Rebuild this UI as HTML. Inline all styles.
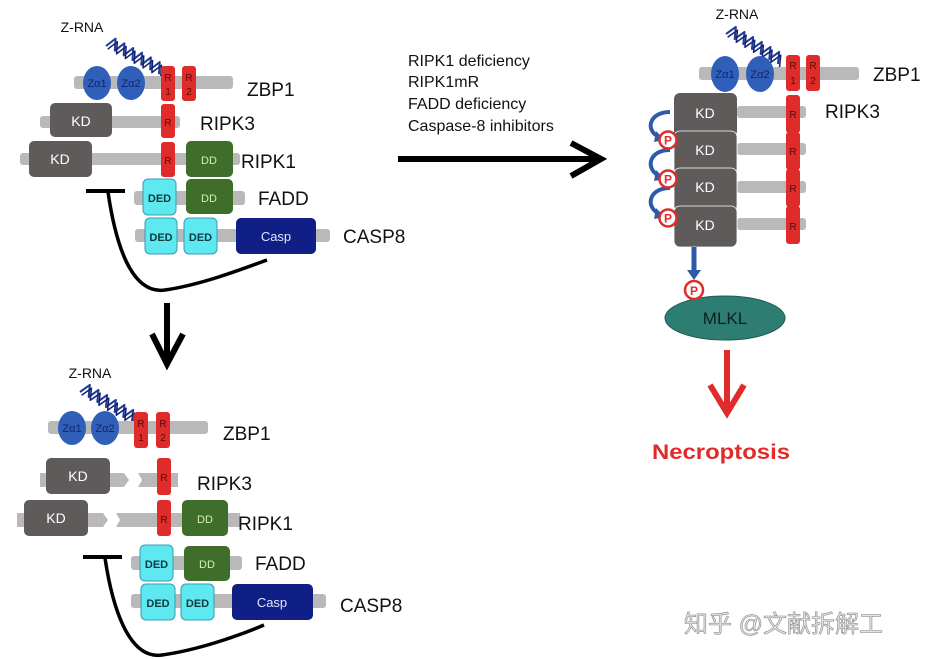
<!DOCTYPE html>
<html><head><meta charset="utf-8"><style>
html,body{margin:0;padding:0;background:#fff}
svg{display:block}
text{font-family:"Liberation Sans",Arial,sans-serif}
</style></head><body>
<svg width="936" height="659" viewBox="0 0 936 659" xmlns="http://www.w3.org/2000/svg">
<defs>
<g id="helix" fill="none" stroke="#1f3a9a" stroke-width="2" stroke-linejoin="round">
<path d="M0,0 l5,-11 l5,11 l5,-11 l5,11 l5,-11 l5,11 l5,-11 l5,11 l5,-11 l5,11 l5,-11 l5,11"/>
<path d="M3,2 l5,-11 l5,11 l5,-11 l5,11 l5,-11 l5,11 l5,-11 l5,11 l5,-11 l5,11 l5,-11 l5,11" stroke="#14206a" stroke-width="1.5"/>
</g>
</defs>
<rect width="936" height="659" fill="#fff"/>

<text x="82" y="32" font-size="14" text-anchor="middle" fill="#111">Z-RNA</text>
<use href="#helix" transform="translate(106,46) rotate(28)"/>
<rect x="74" y="76" width="159" height="13" rx="3" fill="#b9b9b9"/>
<ellipse cx="97" cy="83" rx="14" ry="17" fill="#2f5fb8"/><text x="97" y="87" font-size="11" text-anchor="middle" fill="#14246a">Zα1</text>
<ellipse cx="131" cy="83" rx="14" ry="17" fill="#2f5fb8"/><text x="131" y="87" font-size="11" text-anchor="middle" fill="#14246a">Zα2</text>
<rect x="161" y="66" width="14" height="35" rx="3" fill="#e02b2b"/><text x="168" y="81" font-size="10" text-anchor="middle" fill="#5a0a0a">R</text><text x="168" y="95" font-size="10" text-anchor="middle" fill="#5a0a0a">1</text>
<rect x="182" y="66" width="14" height="35" rx="3" fill="#e02b2b"/><text x="189" y="81" font-size="10" text-anchor="middle" fill="#5a0a0a">R</text><text x="189" y="95" font-size="10" text-anchor="middle" fill="#5a0a0a">2</text>
<text x="247" y="96" font-size="19" fill="#111">ZBP1</text>

<rect x="40" y="116" width="140" height="12" rx="3" fill="#b9b9b9"/>
<rect x="50" y="103" width="62" height="34" rx="5" fill="#5f5b5b"/><text x="81" y="126" font-size="14" text-anchor="middle" fill="#fff">KD</text>
<rect x="161" y="104" width="14" height="34" rx="3" fill="#e02b2b"/><text x="168" y="126" font-size="10" text-anchor="middle" fill="#5a0a0a">R</text>
<text x="200" y="130" font-size="19" fill="#111">RIPK3</text>

<rect x="20" y="153" width="220" height="12" rx="3" fill="#b9b9b9"/>
<rect x="29" y="141" width="63" height="36" rx="5" fill="#5f5b5b"/><text x="60" y="164" font-size="14" text-anchor="middle" fill="#fff">KD</text>
<rect x="161" y="142" width="14" height="35" rx="3" fill="#e02b2b"/><text x="168" y="164" font-size="10" text-anchor="middle" fill="#5a0a0a">R</text>
<rect x="186" y="141" width="47" height="36" rx="5" fill="#3f6e2a"/><text x="209" y="164" font-size="11" text-anchor="middle" fill="#d6f0b0">DD</text>
<text x="241" y="168" font-size="19" fill="#111">RIPK1</text>

<rect x="134" y="191" width="111" height="14" rx="3" fill="#b9b9b9"/>
<rect x="143" y="179" width="33" height="36" rx="5" fill="#5ee8f0" stroke="#3a9bb0"/><text x="159.5" y="202" font-size="11" font-weight="bold" text-anchor="middle" fill="#0c3a40">DED</text>
<rect x="186" y="179" width="47" height="35" rx="5" fill="#3f6e2a"/><text x="209" y="202" font-size="11" text-anchor="middle" fill="#d6f0b0">DD</text>
<text x="258" y="205" font-size="19" fill="#111">FADD</text>

<rect x="135" y="229" width="195" height="13" rx="3" fill="#b9b9b9"/>
<rect x="145" y="218" width="32" height="36" rx="5" fill="#5ee8f0" stroke="#3a9bb0"/><text x="161" y="241" font-size="11" font-weight="bold" text-anchor="middle" fill="#0c3a40">DED</text>
<rect x="184" y="218" width="33" height="36" rx="5" fill="#5ee8f0" stroke="#3a9bb0"/><text x="200.5" y="241" font-size="11" font-weight="bold" text-anchor="middle" fill="#0c3a40">DED</text>
<rect x="236" y="218" width="80" height="36" rx="5" fill="#0f1f86"/><text x="276" y="241" font-size="13" text-anchor="middle" fill="#e0e6ff">Casp</text>
<text x="343" y="243" font-size="19" fill="#111">CASP8</text>

<path d="M86,191 H125" stroke="#000" stroke-width="4"/>
<path d="M108,192 C115,240 130,295 165,290 C200,285 240,270 267,260" fill="none" stroke="#000" stroke-width="3.5"/>

<path d="M167,303 V362 M152,334 L167,364 L183,334" fill="none" stroke="#000" stroke-width="6"/>

<text x="90" y="378" font-size="14" text-anchor="middle" fill="#111">Z-RNA</text>
<use href="#helix" transform="translate(80,392) rotate(30)"/>
<rect x="48" y="421" width="160" height="13" rx="3" fill="#b9b9b9"/>
<ellipse cx="72" cy="428" rx="14" ry="17" fill="#2f5fb8"/><text x="72" y="432" font-size="11" text-anchor="middle" fill="#14246a">Zα1</text>
<ellipse cx="105" cy="428" rx="14" ry="17" fill="#2f5fb8"/><text x="105" y="432" font-size="11" text-anchor="middle" fill="#14246a">Zα2</text>
<rect x="134" y="412" width="14" height="36" rx="3" fill="#e02b2b"/><text x="141" y="427" font-size="10" text-anchor="middle" fill="#5a0a0a">R</text><text x="141" y="441" font-size="10" text-anchor="middle" fill="#5a0a0a">1</text>
<rect x="156" y="412" width="14" height="36" rx="3" fill="#e02b2b"/><text x="163" y="427" font-size="10" text-anchor="middle" fill="#5a0a0a">R</text><text x="163" y="441" font-size="10" text-anchor="middle" fill="#5a0a0a">2</text>
<text x="223" y="440" font-size="19" fill="#111">ZBP1</text>

<path d="M40,473 H124 L129,480 L124,487 H40 Z" fill="#b9b9b9"/>
<path d="M138,473 H178 V487 H138 L142,480 Z" fill="#b9b9b9"/>
<rect x="46" y="458" width="64" height="36" rx="5" fill="#5f5b5b"/><text x="78" y="481" font-size="14" text-anchor="middle" fill="#fff">KD</text>
<rect x="157" y="458" width="14" height="37" rx="3" fill="#e02b2b"/><text x="164" y="481" font-size="10" text-anchor="middle" fill="#5a0a0a">R</text>
<text x="197" y="490" font-size="19" fill="#111">RIPK3</text>

<path d="M17,513 H103 L108,520 L103,527 H17 Z" fill="#b9b9b9"/>
<path d="M116,513 H240 V527 H116 L120,520 Z" fill="#b9b9b9"/>
<rect x="24" y="500" width="64" height="36" rx="5" fill="#5f5b5b"/><text x="56" y="523" font-size="14" text-anchor="middle" fill="#fff">KD</text>
<rect x="157" y="500" width="14" height="36" rx="3" fill="#e02b2b"/><text x="164" y="523" font-size="10" text-anchor="middle" fill="#5a0a0a">R</text>
<rect x="182" y="500" width="46" height="36" rx="5" fill="#3f6e2a"/><text x="205" y="523" font-size="11" text-anchor="middle" fill="#d6f0b0">DD</text>
<text x="238" y="530" font-size="19" fill="#111">RIPK1</text>

<rect x="131" y="556" width="111" height="14" rx="3" fill="#b9b9b9"/>
<rect x="140" y="545" width="33" height="36" rx="5" fill="#5ee8f0" stroke="#3a9bb0"/><text x="156.5" y="568" font-size="11" font-weight="bold" text-anchor="middle" fill="#0c3a40">DED</text>
<rect x="184" y="546" width="46" height="35" rx="5" fill="#3f6e2a"/><text x="207" y="568" font-size="11" text-anchor="middle" fill="#d6f0b0">DD</text>
<text x="255" y="570" font-size="19" fill="#111">FADD</text>

<rect x="131" y="594" width="195" height="14" rx="3" fill="#b9b9b9"/>
<rect x="141" y="584" width="34" height="36" rx="5" fill="#5ee8f0" stroke="#3a9bb0"/><text x="158" y="607" font-size="11" font-weight="bold" text-anchor="middle" fill="#0c3a40">DED</text>
<rect x="181" y="584" width="33" height="36" rx="5" fill="#5ee8f0" stroke="#3a9bb0"/><text x="197.5" y="607" font-size="11" font-weight="bold" text-anchor="middle" fill="#0c3a40">DED</text>
<rect x="232" y="584" width="81" height="36" rx="5" fill="#0f1f86"/><text x="272" y="607" font-size="13" text-anchor="middle" fill="#e0e6ff">Casp</text>
<text x="340" y="612" font-size="19" fill="#111">CASP8</text>

<path d="M83,557 H122" stroke="#000" stroke-width="4"/>
<path d="M105,558 C112,605 128,660 162,655 C198,650 238,636 264,625" fill="none" stroke="#000" stroke-width="3.5"/>

<text font-size="16" fill="#111"><tspan x="408" y="66">RIPK1 deficiency</tspan><tspan x="408" y="87">RIPK1mR</tspan><tspan x="408" y="109">FADD deficiency</tspan><tspan x="408" y="131">Caspase-8 inhibitors</tspan></text>
<path d="M398,159 H598 M571,143 L601,159 L571,176" fill="none" stroke="#000" stroke-width="6"/>

<text x="737" y="19" font-size="14" text-anchor="middle" fill="#111">Z-RNA</text>
<use href="#helix" transform="translate(726,34) rotate(30)"/>
<rect x="699" y="67" width="160" height="13" rx="3" fill="#b9b9b9"/>
<ellipse cx="725" cy="74" rx="14" ry="18" fill="#2f5fb8"/><text x="725" y="78" font-size="11" text-anchor="middle" fill="#14246a">Zα1</text>
<ellipse cx="760" cy="74" rx="14" ry="18" fill="#2f5fb8"/><text x="760" y="78" font-size="11" text-anchor="middle" fill="#14246a">Zα2</text>
<rect x="786" y="55" width="14" height="36" rx="3" fill="#e02b2b"/><text x="793" y="69" font-size="10" text-anchor="middle" fill="#5a0a0a">R</text><text x="793" y="84" font-size="10" text-anchor="middle" fill="#5a0a0a">1</text>
<rect x="806" y="55" width="14" height="36" rx="3" fill="#e02b2b"/><text x="813" y="69" font-size="10" text-anchor="middle" fill="#5a0a0a">R</text><text x="813" y="84" font-size="10" text-anchor="middle" fill="#5a0a0a">2</text>
<text x="873" y="81" font-size="19" fill="#111">ZBP1</text>

<g>
<rect x="737" y="106" width="69" height="12" rx="3" fill="#b9b9b9"/>
<rect x="737" y="143" width="69" height="12" rx="3" fill="#b9b9b9"/>
<rect x="737" y="181" width="69" height="12" rx="3" fill="#b9b9b9"/>
<rect x="737" y="218" width="69" height="12" rx="3" fill="#b9b9b9"/>
<rect x="674" y="93" width="63" height="44" rx="6" fill="#5f5b5b"/>
<rect x="674" y="131" width="63" height="44" rx="6" fill="#5f5b5b" stroke="#fff" stroke-width="0.8"/>
<rect x="674" y="168" width="63" height="44" rx="6" fill="#5f5b5b" stroke="#fff" stroke-width="0.8"/>
<rect x="674" y="206" width="63" height="41" rx="6" fill="#5f5b5b" stroke="#fff" stroke-width="0.8"/>
<text x="705" y="118" font-size="14" text-anchor="middle" fill="#fff">KD</text>
<text x="705" y="155" font-size="14" text-anchor="middle" fill="#fff">KD</text>
<text x="705" y="192" font-size="14" text-anchor="middle" fill="#fff">KD</text>
<text x="705" y="230" font-size="14" text-anchor="middle" fill="#fff">KD</text>
<rect x="786" y="95" width="14" height="38" rx="3" fill="#e02b2b"/><text x="793" y="118" font-size="10" text-anchor="middle" fill="#5a0a0a">R</text>
<rect x="786" y="132" width="14" height="38" rx="3" fill="#e02b2b"/><text x="793" y="155" font-size="10" text-anchor="middle" fill="#5a0a0a">R</text>
<rect x="786" y="169" width="14" height="38" rx="3" fill="#e02b2b"/><text x="793" y="192" font-size="10" text-anchor="middle" fill="#5a0a0a">R</text>
<rect x="786" y="206" width="14" height="38" rx="3" fill="#e02b2b"/><text x="793" y="230" font-size="10" text-anchor="middle" fill="#5a0a0a">R</text>
</g>
<text x="825" y="118" font-size="19" fill="#111">RIPK3</text>

<g fill="none" stroke="#2f5aa8" stroke-width="4">
<path d="M670,112 C648,112 645,132 660,137"/>
<path d="M670,150 C648,150 645,170 660,176"/>
<path d="M670,188 C648,188 645,208 660,214"/>
</g>
<g fill="#2f5aa8">
<path d="M656,131 L665,140 L654,142 Z"/>
<path d="M656,170 L665,179 L654,181 Z"/>
<path d="M656,208 L665,217 L654,219 Z"/>
</g>
<g>
<circle cx="668" cy="140" r="8.5" fill="#fff" stroke="#e02b2b" stroke-width="2.5"/><text x="668" y="144.5" font-size="12" font-weight="bold" text-anchor="middle" fill="#e02b2b">P</text>
<circle cx="668" cy="179" r="8.5" fill="#fff" stroke="#e02b2b" stroke-width="2.5"/><text x="668" y="183.5" font-size="12" font-weight="bold" text-anchor="middle" fill="#e02b2b">P</text>
<circle cx="668" cy="218" r="8.5" fill="#fff" stroke="#e02b2b" stroke-width="2.5"/><text x="668" y="222.5" font-size="12" font-weight="bold" text-anchor="middle" fill="#e02b2b">P</text>
</g>
<path d="M694,247 V272" stroke="#2f5aa8" stroke-width="5"/>
<path d="M687,270 L701,270 L694,280 Z" fill="#2f5aa8"/>
<ellipse cx="725" cy="318" rx="60" ry="22" fill="#2e7d73" stroke="#1d5a52"/>
<text x="725" y="324" font-size="17" text-anchor="middle" fill="#0b1f1c">MLKL</text>
<circle cx="694" cy="290" r="9" fill="#fff" stroke="#e02b2b" stroke-width="2.5"/><text x="694" y="295" font-size="12" font-weight="bold" text-anchor="middle" fill="#e02b2b">P</text>

<path d="M727,350 V412" stroke="#e02b2b" stroke-width="6"/>
<path d="M710,385 L727,413 L744,385" fill="none" stroke="#e02b2b" stroke-width="6"/>
<text x="721" y="459" font-size="21" font-weight="bold" text-anchor="middle" fill="#e02b2b" textLength="138" lengthAdjust="spacingAndGlyphs">Necroptosis</text>

<text x="684" y="632" font-size="24" fill="#e4e4e4" font-family="'Liberation Sans','Noto Sans CJK SC',sans-serif" stroke="#8a8a8a" stroke-width="0.6">知乎 @文献拆解工</text>
</svg>
</body></html>
